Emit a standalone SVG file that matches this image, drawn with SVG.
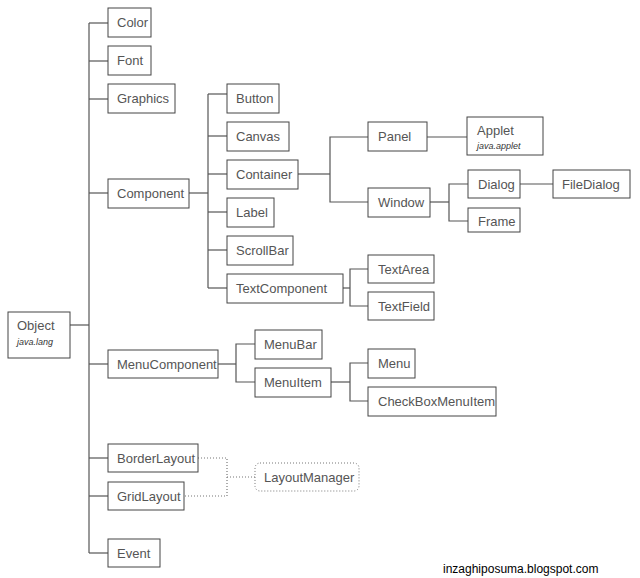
<svg xmlns="http://www.w3.org/2000/svg" width="640" height="578" viewBox="0 0 640 578">
<style>
rect{fill:#fff;stroke:#444;stroke-width:1}
text{font-family:"Liberation Sans",Arial,sans-serif;font-size:13px;fill:#555}
.s{font-size:9px;font-style:italic;fill:#333}
#c line,#c path{stroke:#555;stroke-width:1.2;fill:none}
#c .d{stroke:#777;stroke-dasharray:1,2}
.r{fill:none;stroke:#777;stroke-dasharray:1,2}
</style>
<rect x="0" y="0" width="640" height="578" style="fill:#fff;stroke:none"/>
<g id="c">
<line x1="89" y1="23" x2="89" y2="553"/>
<line x1="70" y1="325" x2="89" y2="325"/>
<line x1="89" y1="23" x2="108" y2="23"/>
<line x1="89" y1="61" x2="108" y2="61"/>
<line x1="89" y1="99" x2="108" y2="99"/>
<line x1="89" y1="193" x2="108" y2="193"/>
<line x1="89" y1="364" x2="108" y2="364"/>
<line x1="89" y1="458" x2="108" y2="458"/>
<line x1="89" y1="496" x2="108" y2="496"/>
<line x1="89" y1="553" x2="108" y2="553"/>
<line x1="189" y1="193" x2="208" y2="193"/>
<line x1="208" y1="94" x2="208" y2="288"/>
<line x1="208" y1="94" x2="227" y2="94"/>
<line x1="208" y1="136" x2="227" y2="136"/>
<line x1="208" y1="174" x2="227" y2="174"/>
<line x1="208" y1="212" x2="227" y2="212"/>
<line x1="208" y1="250" x2="227" y2="250"/>
<line x1="208" y1="288" x2="227" y2="288"/>
<line x1="298" y1="174" x2="330" y2="174"/>
<path d="M368 137H330V202H368"/>
<line x1="427" y1="137" x2="467" y2="137"/>
<line x1="430" y1="202" x2="449" y2="202"/>
<path d="M468 184H449V221H468"/>
<line x1="520" y1="184" x2="553" y2="184"/>
<line x1="343" y1="288" x2="350" y2="288"/>
<path d="M368 269H350V306H368"/>
<line x1="218" y1="364" x2="236" y2="364"/>
<path d="M255 344H236V382H255"/>
<line x1="331" y1="382" x2="350" y2="382"/>
<path d="M368 363H350V401H368"/>
<path class="d" d="M198 458H227V496H184M227 477H255"/>
</g>
<g id="object"><rect x="8" y="312" width="62" height="46"/><text x="17" y="330">Object</text><text class="s" x="17" y="345">java.lang</text></g>
<g id="color"><rect x="108" y="8" width="43" height="29"/><text x="117" y="27">Color</text></g>
<g id="font"><rect x="108" y="46" width="43" height="29"/><text x="117" y="65">Font</text></g>
<g id="graphics"><rect x="108" y="84" width="67" height="29"/><text x="117" y="103">Graphics</text></g>
<g id="component"><rect x="108" y="179" width="81" height="29"/><text x="117" y="198">Component</text></g>
<g id="menucomponent"><rect x="108" y="350" width="110" height="28"/><text x="117" y="369">MenuComponent</text></g>
<g id="borderlayout"><rect x="108" y="444" width="90" height="28"/><text x="117" y="463">BorderLayout</text></g>
<g id="gridlayout"><rect x="108" y="482" width="76" height="28"/><text x="117" y="501">GridLayout</text></g>
<g id="event"><rect x="108" y="539" width="52" height="28"/><text x="117" y="558">Event</text></g>
<g id="button"><rect x="227" y="84" width="52" height="29"/><text x="236" y="103">Button</text></g>
<g id="canvas"><rect x="227" y="122" width="62" height="29"/><text x="236" y="141">Canvas</text></g>
<g id="container"><rect x="227" y="160" width="71" height="29"/><text x="236" y="179">Container</text></g>
<g id="label"><rect x="227" y="198" width="47" height="29"/><text x="236" y="217">Label</text></g>
<g id="scrollbar"><rect x="227" y="236" width="66" height="29"/><text x="236" y="255">ScrollBar</text></g>
<g id="textcomponent"><rect x="227" y="274" width="116" height="29"/><text x="236" y="293">TextComponent</text></g>
<g id="panel"><rect x="368" y="122" width="59" height="29"/><text x="378" y="141">Panel</text></g>
<g id="window"><rect x="368" y="188" width="62" height="29"/><text x="378" y="207">Window</text></g>
<g id="applet"><rect x="467" y="117" width="76" height="38"/><text x="477" y="135">Applet</text><text class="s" x="477" y="149">java.applet</text></g>
<g id="dialog"><rect x="468" y="170" width="52" height="28"/><text x="478" y="189">Dialog</text></g>
<g id="frame"><rect x="468" y="208" width="52" height="24"/><text x="478" y="226">Frame</text></g>
<g id="filedialog"><rect x="553" y="170" width="77" height="28"/><text x="562" y="189">FileDialog</text></g>
<g id="textarea"><rect x="368" y="255" width="66" height="28"/><text x="378" y="274">TextArea</text></g>
<g id="textfield"><rect x="368" y="292" width="66" height="28"/><text x="378" y="311">TextField</text></g>
<g id="menubar"><rect x="255" y="330" width="67" height="29"/><text x="264" y="349">MenuBar</text></g>
<g id="menuitem"><rect x="255" y="368" width="76" height="29"/><text x="264" y="387">MenuItem</text></g>
<g id="menu"><rect x="368" y="349" width="47" height="29"/><text x="378" y="368">Menu</text></g>
<g id="checkboxmenuitem"><rect x="368" y="387" width="128" height="29"/><text x="378" y="406">CheckBoxMenuItem</text></g>
<g id="layoutmanager"><rect class="r" x="255" y="463" width="104" height="28" rx="5"/><text x="264" y="482">LayoutManager</text></g>
<text x="443" y="573" style="fill:#000;font-size:12px">inzaghiposuma.blogspot.com</text>
</svg>
